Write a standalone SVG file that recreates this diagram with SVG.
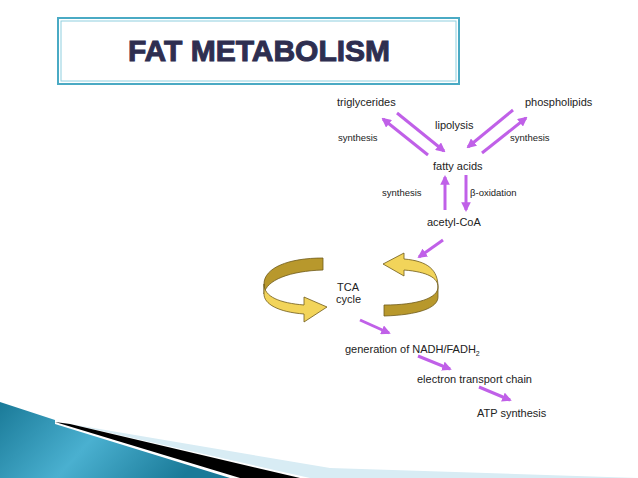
<svg xmlns="http://www.w3.org/2000/svg" width="638" height="478" viewBox="0 0 638 478">
<defs>
<style>
.t{font-family:"Liberation Sans",Arial,sans-serif;font-size:11px;fill:#222}
.s{font-size:9.5px}
.c{stroke:#c060e8;stroke-width:3;fill:none;marker-end:url(#ah)}
.dk{fill:#b8982c;stroke:#6e5a1a;stroke-width:0.8}
.lt{fill:#f2d45a;stroke:#6e5a1a;stroke-width:0.8}
</style>
<marker id="ah" viewBox="0 0 10 10" refX="8" refY="5" markerWidth="3.2" markerHeight="3.2" orient="auto"><path d="M0,0 L10,5 L0,10 Z" fill="#c060e8"/></marker>
<linearGradient id="bg" x1="0" y1="0" x2="1" y2="0.3"><stop offset="0" stop-color="#1a7a98"/><stop offset="0.5" stop-color="#4ab0d0"/><stop offset="1" stop-color="#1a7a98"/></linearGradient>
</defs>
<rect width="638" height="478" fill="#fff"/>
<g id="title">
<rect x="58" y="18" width="401" height="66" fill="#fff" stroke="#4aaac4" stroke-width="2"/>
<rect x="61" y="21" width="395" height="60" fill="none" stroke="#8fd0e0" stroke-width="1"/>
<text x="259" y="61" text-anchor="middle" style="font-family:'Liberation Sans',Arial,sans-serif;font-weight:bold;font-size:30px;fill:#2e2e50;stroke:#2e2e50;stroke-width:1">FAT METABOLISM</text>
</g>
<g id="decor">
<polygon points="70,424 330,468 638,478 310,478" fill="#d8ecf4"/>
<polygon points="55,422 70,424 300,478 240,478" fill="#000"/>
<polygon points="0,402 55,420 55,424 230,478 0,478" fill="url(#bg)"/>
</g>
<g id="tca">
<path class="dk" d="M323,258 C288,258 264,268 264,284 L264,294 C266,280 290,271 323,270 Z"/>
<path class="lt" d="M264,284 C264,297 280,303 304,305 L304,297 L327,307 L304,322 L304,314 C278,312 264,304 264,294 Z"/>
<path class="dk" d="M384,305 C418,305 438,298 438,287 L438,297 C438,308 418,315 384,316 Z"/>
<path class="lt" d="M438,287 C438,278 428,272 404,270 L404,276 L383,264 L404,253 L404,259 C428,261 438,270 438,287 Z"/>
<text class="t" x="337" y="291">TCA</text>
<text class="t" x="336" y="303">cycle</text>
</g>
<g id="nodes">
<text id="triglycerides" class="t" x="337" y="106">triglycerides</text>
<text id="phospholipids" class="t" x="525" y="106">phospholipids</text>
<text id="lipolysis" class="t" x="435" y="129">lipolysis</text>
<text class="t s" x="338" y="141">synthesis</text>
<text class="t s" x="510" y="141">synthesis</text>
<text id="fatty" class="t" x="433" y="170">fatty acids</text>
<text class="t s" x="382" y="196">synthesis</text>
<text class="t s" x="470" y="196">β-oxidation</text>
<text id="acetyl" class="t" x="427" y="226">acetyl-CoA</text>
<text id="nadh" class="t" x="345" y="353">generation of NADH/FADH<tspan dy="3" font-size="7">2</tspan></text>
<text id="etc" class="t" x="417" y="383">electron transport chain</text>
<text id="atp" class="t" x="477" y="417">ATP synthesis</text>
</g>
<g id="connectors">
<line class="c" x1="397" y1="113" x2="444" y2="151"/>
<line class="c" x1="428" y1="155" x2="383" y2="119"/>
<line class="c" x1="513" y1="110" x2="468" y2="147"/>
<line class="c" x1="482" y1="153" x2="526" y2="118"/>
<line class="c" x1="445" y1="210" x2="445" y2="177"/>
<line class="c" x1="466" y1="175" x2="466" y2="210"/>
<line class="c" x1="443" y1="240" x2="419" y2="257"/>
<line class="c" x1="360" y1="320" x2="389" y2="333"/>
<line class="c" x1="418" y1="356" x2="450" y2="369"/>
<line class="c" x1="479" y1="387" x2="510" y2="400"/>
</g>
</svg>
